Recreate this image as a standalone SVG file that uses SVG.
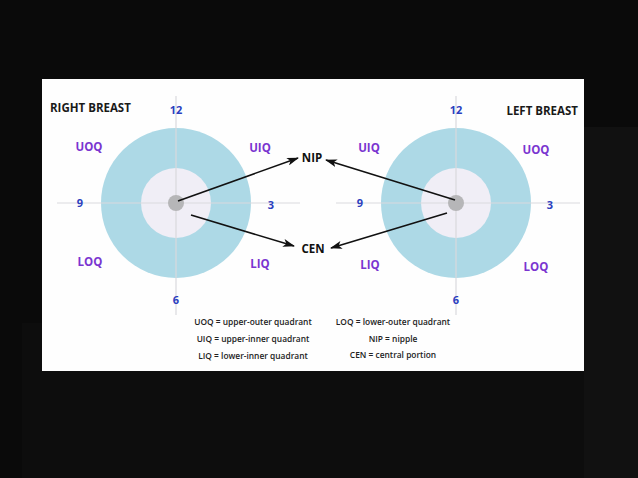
<svg xmlns="http://www.w3.org/2000/svg" width="638" height="478" viewBox="0 0 638 478">
<defs>
<style>
.ttl{font-family:"Open Sans","Liberation Sans",sans-serif;font-weight:700;font-size:11.5px;fill:#1a1a1a}
.num{font-family:"Open Sans","Liberation Sans",sans-serif;font-weight:700;font-size:11px;fill:#2b3fbf;text-anchor:middle;dominant-baseline:central}
.q{font-family:"Open Sans","Liberation Sans",sans-serif;font-weight:700;font-size:11.5px;fill:#7a35d0;text-anchor:middle;dominant-baseline:central}
.lbl{font-family:"Open Sans","Liberation Sans",sans-serif;font-weight:700;font-size:11.5px;fill:#111;text-anchor:middle;dominant-baseline:central}
.leg{font-family:"Open Sans","Liberation Sans",sans-serif;font-weight:600;font-size:8.4px;fill:#222;text-anchor:middle;dominant-baseline:central}
.axis{stroke:#d9d9dd;stroke-width:1.2;fill:none}
.outer{fill:#add9e6}
.inner{fill:#f0eef6}
.nip{fill:#b6b6b8}
.arr{stroke:#111;stroke-width:1.6;fill:none;marker-end:url(#ah)}
</style>
<marker id="ah" viewBox="0 0 12 8" refX="11" refY="4" markerWidth="12" markerHeight="8" markerUnits="userSpaceOnUse" orient="auto">
<path d="M0,0 L12,4 L0,8 L3,4 Z" fill="#111"/>
</marker>
</defs>
<rect x="0" y="0" width="638" height="478" fill="#0a0a0a"/>
<rect x="584" y="127" width="54" height="351" fill="#111111"/>
<rect x="22" y="323" width="562" height="155" fill="#0d0d0d"/>
<rect x="42" y="79" width="542" height="292" fill="#fefefe"/>

<g id="right-breast">
<circle class="outer" cx="176" cy="203" r="75"/>
<circle class="inner" cx="176" cy="203" r="35"/>
<line class="axis" x1="57" y1="203" x2="300" y2="203"/>
<line class="axis" x1="176" y1="96" x2="176" y2="315"/>
<circle class="nip" cx="176" cy="203" r="8"/>
<text class="ttl" x="50" y="112">RIGHT BREAST</text>
<text class="num" x="176" y="109">12</text>
<text class="num" x="80" y="202">9</text>
<text class="num" x="271" y="204">3</text>
<text class="num" x="176" y="299">6</text>
<text class="q" x="89" y="146">UOQ</text>
<text class="q" x="260" y="147">UIQ</text>
<text class="q" x="90" y="261">LOQ</text>
<text class="q" x="260" y="263">LIQ</text>
</g>

<g id="left-breast">
<circle class="outer" cx="456" cy="203" r="75"/>
<circle class="inner" cx="456" cy="203" r="35"/>
<line class="axis" x1="336" y1="203" x2="580" y2="203"/>
<line class="axis" x1="456" y1="96" x2="456" y2="315"/>
<circle class="nip" cx="456" cy="203" r="8"/>
<text class="ttl" x="578" y="115" text-anchor="end">LEFT BREAST</text>
<text class="num" x="456" y="109">12</text>
<text class="num" x="360" y="202">9</text>
<text class="num" x="550" y="204">3</text>
<text class="num" x="456" y="299">6</text>
<text class="q" x="369" y="147">UIQ</text>
<text class="q" x="536" y="149">UOQ</text>
<text class="q" x="370" y="264">LIQ</text>
<text class="q" x="536" y="266">LOQ</text>
</g>

<g id="nip"><text class="lbl" x="312" y="157">NIP</text></g>
<g id="cen"><text class="lbl" x="313" y="248">CEN</text></g>

<g id="connectors">
<line class="arr" x1="178" y1="201" x2="298" y2="158"/>
<line class="arr" x1="455" y1="200" x2="326" y2="160"/>
<line class="arr" x1="191" y1="215" x2="294" y2="246"/>
<line class="arr" x1="447" y1="213" x2="331" y2="248"/>
</g>

<g id="legend">
<text class="leg" x="253" y="321">UOQ = upper-outer quadrant</text>
<text class="leg" x="253" y="338">UIQ = upper-inner quadrant</text>
<text class="leg" x="253" y="355">LIQ = lower-inner quadrant</text>
<text class="leg" x="393" y="321">LOQ = lower-outer quadrant</text>
<text class="leg" x="393" y="338">NIP = nipple</text>
<text class="leg" x="393" y="354">CEN = central portion</text>
</g>
</svg>
